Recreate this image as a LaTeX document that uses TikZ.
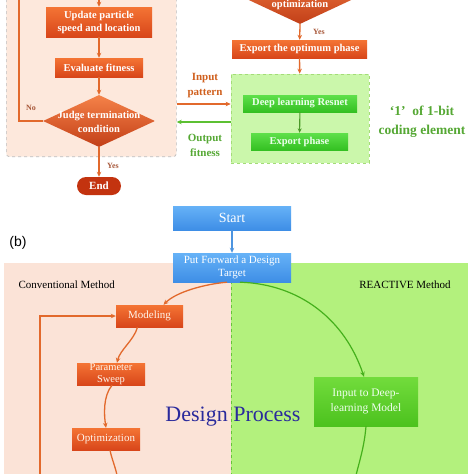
\documentclass[tikz,border=0pt]{standalone}
\usepackage{fontspec}
\setmainfont{Liberation Serif}
\newfontfamily\sansf{Liberation Sans}
\usetikzlibrary{arrows.meta,shapes.geometric,calc}
\definecolor{oTop}{HTML}{F47434}
\definecolor{oBot}{HTML}{D8461A}
\definecolor{oLine}{HTML}{E2692C}
\definecolor{oText}{HTML}{D0601E}
\definecolor{brownT}{HTML}{A8583A}
\definecolor{endC}{HTML}{C3330F}
\definecolor{pinkA}{HTML}{FDE8DC}
\definecolor{pinkB}{HTML}{FBE3D7}
\definecolor{dashG}{HTML}{BDBDBD}
\definecolor{gFillA}{HTML}{CBF7AB}
\definecolor{gDash}{HTML}{A4DC78}
\definecolor{gTop}{HTML}{5EE04A}
\definecolor{gBot}{HTML}{34C022}
\definecolor{gText}{HTML}{55A834}
\definecolor{gLine}{HTML}{5CC032}
\definecolor{gReg}{HTML}{B3F17D}
\definecolor{gBoxT}{HTML}{72DC3C}
\definecolor{gBoxB}{HTML}{4CC21E}
\definecolor{gArc}{HTML}{45B01C}
\definecolor{bTop}{HTML}{66B2F7}
\definecolor{bBot}{HTML}{3E8EE6}
\definecolor{bLine}{HTML}{4C94E0}
\definecolor{navy}{HTML}{2A2A9C}
\begin{document}
\begin{tikzpicture}[x=1pt,y=-1pt,
  obox/.style={rectangle,top color=oTop,bottom color=oBot,text=white,
    font=\bfseries\fontsize{10.5}{13}\selectfont,align=center,inner sep=0},
  odiam/.style={diamond,top color=oTop!90!white,bottom color=oBot!90!black,inner sep=0},
  gsbox/.style={rectangle,top color=gTop,bottom color=gBot,text=white!92!green,
    font=\bfseries\fontsize{10.5}{12}\selectfont,inner sep=0},
  bbox/.style={rectangle,top color=bTop,bottom color=bBot,text=white,align=center,inner sep=0},
  obox2/.style={rectangle,top color=oTop,bottom color=oBot,text=white!92!orange,
    font=\fontsize{11}{12}\selectfont,align=center,inner sep=0},
  gbox2/.style={rectangle,top color=gBoxT,bottom color=gBoxB,text=white!94!green,
    font=\fontsize{11.5}{15}\selectfont,align=center,inner sep=0},
  oline/.style={draw=oLine,line width=1.3pt},
  oarr/.style={oline,-{Stealth[length=5pt,width=4.5pt]}},
  garr/.style={draw=gLine,line width=1.3pt,-{Stealth[length=5pt,width=4.5pt]}},
  garr2/.style={draw=gArc,line width=1.2pt,-{Stealth[length=5pt,width=4.5pt]}},
  barr/.style={draw=bLine,line width=1.2pt,-{Stealth[length=5pt,width=4.5pt]}},
  small/.style={text=brownT,font=\bfseries\fontsize{8}{9}\selectfont},
  lbl/.style={font=\fontsize{11}{13}\selectfont,text=black}]
\useasboundingbox (0,0) rectangle (474,474);
\clip (0,0) rectangle (474,474);
\fill[white] (0,0) rectangle (474,474);

% ---------- top part ----------
\node[draw=dashG,dashed,fill=pinkA,rounded corners=3pt,line width=0.7pt,
  minimum width=170,minimum height=190,anchor=south west,inner sep=0] (lbox) at (6,157) {};
\node[obox,minimum width=106,minimum height=30] (upd) at (99,22) {Update particle\\speed and location};
\node[obox,minimum width=88,minimum height=19] (evf) at (99,67.5) {Evaluate fitness};
\node[odiam,minimum width=112,minimum height=52] (judge) at (99,121) {};
\node[text=white,font=\bfseries\fontsize{10.5}{13.5}\selectfont,align=center,inner sep=0]
  (judgeT) at (99,122) {Judge termination\\condition};
\node[rectangle,rounded corners=9pt,fill=endC,text=white,font=\bfseries\fontsize{11}{12}\selectfont,
  minimum width=44,minimum height=18,inner sep=0] (end) at (99,186) {End};
\coordinate (topin) at (99,-5);
\coordinate (loopc) at (19,-30);
\draw[oarr] (topin) -- (upd);
\draw[oarr] (upd) -- (evf);
\draw[oarr] (evf) -- (judge);
\draw[oarr] (judge.south) -- (end);
\draw[oline] (judge.west) -| (loopc);
\node[small] (no) at (31,108) {No};
\node[small] (yes1) at (113,166) {Yes};

% right flow
\node[odiam,minimum width=124,minimum height=58] (opt) at (300,-5) {};
\node[text=white,font=\bfseries\fontsize{10.5}{12}\selectfont,inner sep=0] (optT) at (300,5) {optimization};
\node[obox,minimum width=135,minimum height=18] (eop) at (299.5,49) {Export the optimum phase};
\node[draw=gDash,dashed,fill=gFillA,line width=0.7pt,minimum width=138,minimum height=89,inner sep=0]
  (gbox) at (300,118.5) {};
\node[gsbox,minimum width=114,minimum height=17] (dlr) at (300,103.5) {Deep learning Resnet};
\node[gsbox,minimum width=97,minimum height=17] (exph) at (299.5,141.5) {Export phase};
\draw[oarr] (opt.south) -- (eop);
\draw[oarr] (eop) -- (gbox);
\draw[draw=gLine!80!black,line width=1.1pt,-{Stealth[length=4.5pt,width=4pt]}] (dlr) -- (exph);
\node[small] (yes2) at (319,32) {Yes};

\coordinate (ip) at (0,104);
\coordinate (op) at (0,122);
\draw[oarr] (lbox.east |- ip) -- (gbox.west |- ip);
\draw[garr] (gbox.west |- op) -- (lbox.east |- op);
\node[text=oText,font=\bfseries\fontsize{11}{15}\selectfont,align=center] (inpat) at (205,86) {Input\\pattern};
\node[text=gText,font=\bfseries\fontsize{11}{15}\selectfont,align=center] (outfit) at (205,145) {Output\\fitness};
\node[text=gText,font=\bfseries\fontsize{13.5}{19}\selectfont,align=center] (code) at (422,122)
  {‘1’\enspace of 1-bit\\coding element};

% ---------- bottom part ----------
\node[font=\sansf\fontsize{14}{16}\selectfont] (b) at (18,243) {(b)};
\fill[pinkB] (4,263) rectangle (231,480);
\fill[gReg] (231,263) rectangle (468,480);
\draw[gArc!70!gReg,dashed,line width=0.6pt] (231,263) -- (231,480);

\node[bbox,minimum width=118,minimum height=24,font=\fontsize{14}{16}\selectfont] (start) at (232,218) {Start};
\node[bbox,minimum width=118,minimum height=29,font=\fontsize{11}{13}\selectfont] (pf) at (232,267.5)
  {Put Forward a Design\\Target};
\draw[barr] (start) -- (pf);

\node[lbl,anchor=west] (conv) at (15,285) {Conventional Method};
\node[lbl] (reac) at (405,285) {REACTIVE Method};
\node[font=\fontsize{22}{24}\selectfont,text=navy] (dp) at (233,417) {Design Process};

\node[obox2,minimum width=67,minimum height=22] (mod) at (149.5,316) {Modeling};
\node[obox2,minimum width=68,minimum height=22,font=\fontsize{10.5}{11.5}\selectfont] (ps) at (111,374) {Parameter\\Sweep};
\node[obox2,minimum width=68,minimum height=22] (optb) at (106,439) {Optimization};
\node[gbox2,minimum width=104,minimum height=49] (inp) at (366,401.5) {Input to Deep-\\learning Model};

\coordinate (loopb) at (40,480);
\coordinate (obend) at (118,480);
\coordinate (gend) at (355,480);
\draw[oarr] ([xshift=-5]pf.south) .. controls (205,284) and (176,292) .. ([xshift=14]mod.north);
\draw[oarr] (loopb) |- (mod.west);
\draw[oarr] ([xshift=-12]mod.south) .. controls (134,340) and (120,350) .. ([xshift=6]ps.north);
\draw[oarr] ([xshift=1]ps.south) .. controls (103,396) and (104,415) .. (optb.north);
\draw[oline] ([xshift=4]optb.south) .. controls (112,460) and (116,468) .. (obend);
\draw[garr2] ([xshift=8]pf.south) .. controls (300,284) and (345,320) .. ([xshift=-2]inp.north);
\draw[draw=gArc,line width=1.2pt] (inp.south) .. controls (364,450) and (358,465) .. (gend);
\end{tikzpicture}
\end{document}
